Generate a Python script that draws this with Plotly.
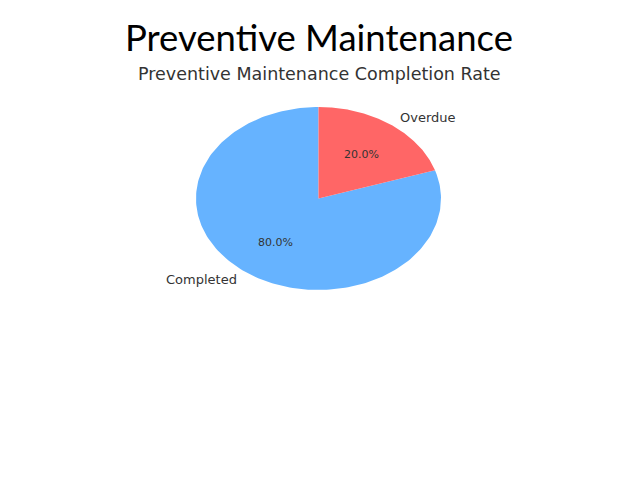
import numpy as np
import plotly.graph_objects as go

# Data
labels = ["Completed", "Overdue"]
values = [80, 20]
colors = ["#66b3ff", "#ff6666"]
title_text = "Preventive Maintenance"
subtitle_text = "Preventive Maintenance Completion Rate"

W, H = 638, 478
OFF = 8                           # page body margin offset
cx_px, cy_px = 318.5 - OFF, 198.5 - OFF   # pie centre in pixels (figure coords)
rx_px, ry_px = 122.5, 91.5       # pie radii in pixels

fig = go.Figure()

total = sum(values)
start = 90.0
for lab, val, col in zip(labels, values, colors):
    frac = val / total
    end = start + 360.0 * frac
    th = np.radians(np.linspace(start, end, 200))
    xs = np.concatenate([[0], np.cos(th), [0]])
    ys = np.concatenate([[0], np.sin(th), [0]])
    fig.add_trace(go.Scatter(x=xs, y=ys, mode="lines", fill="toself",
                             fillcolor=col, line=dict(width=0, color=col),
                             hoverinfo="skip", showlegend=False))
    mid = np.radians((start + end) / 2)
    lx, ly = 1.1 * np.cos(mid), 1.1 * np.sin(mid)
    fig.add_annotation(x=lx, y=ly, text=lab, showarrow=False,
                       xanchor="left" if lx > 0 else "right", yanchor="middle",
                       font=dict(family="DejaVu Sans", size=13, color="#333333"))
    px, py = 0.6 * np.cos(mid), 0.6 * np.sin(mid)
    fig.add_annotation(x=px, y=py, text=f"{100*frac:.1f}%", showarrow=False,
                       xanchor="center", yanchor="middle",
                       font=dict(family="DejaVu Sans", size=11, color="#333333"))
    start = end

fig.add_annotation(xref="paper", yref="paper", x=(318.5 - OFF) / W, y=1 - (37 - OFF) / H,
                   text=title_text, showarrow=False, xanchor="center", yanchor="middle",
                   font=dict(family="Lato", size=36.5, color="#000000"))
fig.add_annotation(xref="paper", yref="paper", x=(319 - OFF) / W, y=1 - (74 - OFF) / H,
                   text=subtitle_text, showarrow=False, xanchor="center", yanchor="middle",
                   font=dict(family="DejaVu Sans", size=17.5, color="#333333"))

fig.update_xaxes(range=[-cx_px / rx_px, (W - cx_px) / rx_px], visible=False,
                 fixedrange=True)
fig.update_yaxes(range=[-(H - cy_px) / ry_px, cy_px / ry_px], visible=False,
                 fixedrange=True)
fig.update_layout(width=W, height=H, margin=dict(l=0, r=0, t=0, b=0),
                  paper_bgcolor="white", plot_bgcolor="white")

fig.write_html("out.html", config={"displayModeBar": False})
